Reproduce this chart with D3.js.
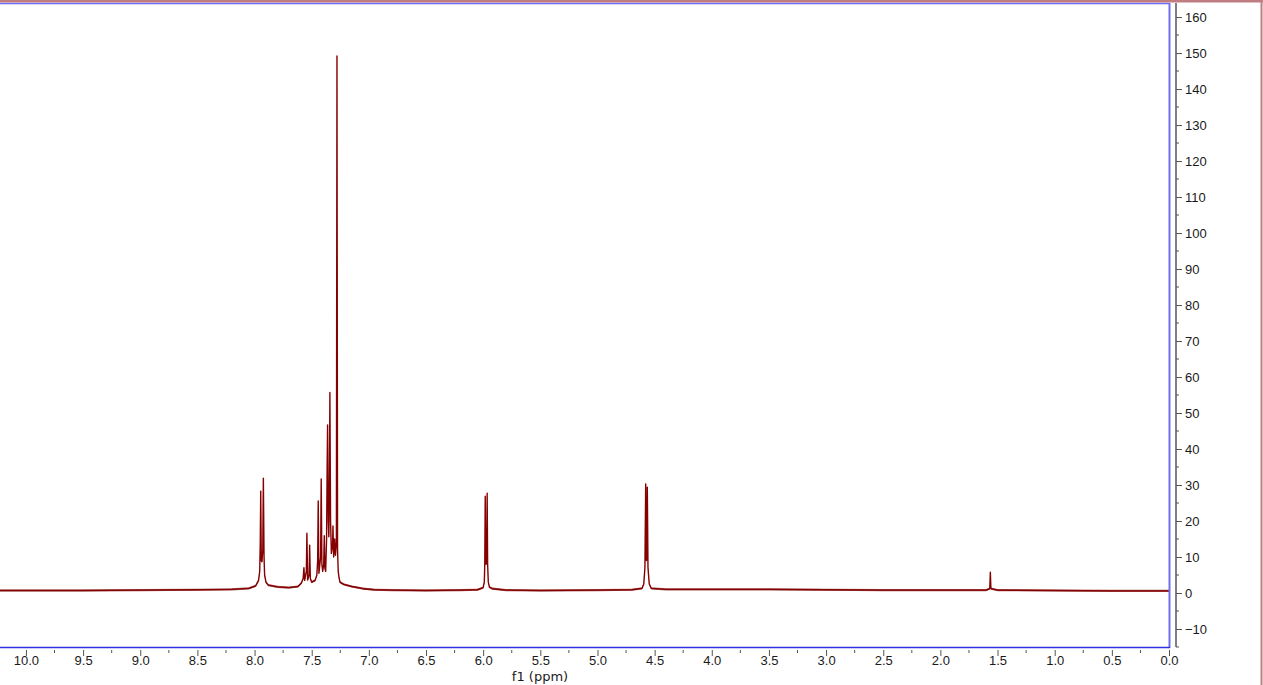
<!DOCTYPE html>
<html>
<head>
<meta charset="utf-8">
<script src="https://cdn.jsdelivr.net/npm/d3@7"></script>
<style>
  html, body { margin: 0; padding: 0; background: #fff; }
  svg { display: block; font-family: 'DejaVu Sans', Verdana, sans-serif; }
  .axis text { font-size: 13px; fill: #1a1a1a; }
  .axis line { stroke: #555; }
</style>
</head>
<body>
<div id="chart"></div>
<script>
// spectrum: chemical shift (ppm) and intensity, high ppm first
var shiftPpm = [
  10.23, 9.5, 9.0, 8.5, 8.2, 8.05, 7.99, 7.965,
  7.955, 7.950, 7.946, 7.941, 7.935, 7.928, 7.923, 7.917, 7.912, 7.90, 7.88, 7.80, 7.70, 7.62, 7.59,
  7.575, 7.568, 7.562, 7.547, 7.542, 7.536, 7.523, 7.518, 7.512, 7.50, 7.47,
  7.455, 7.448, 7.443, 7.437, 7.422, 7.417, 7.411, 7.404, 7.395, 7.390, 7.385, 7.378,
  7.370, 7.365, 7.361, 7.355, 7.350, 7.345, 7.341, 7.335, 7.328, 7.318, 7.314, 7.308,
  7.303, 7.299, 7.292, 7.284, 7.279, 7.274, 7.268, 7.262, 7.253, 7.22, 7.15, 7.05, 6.95, 6.8, 6.5,
  6.2, 6.05, 6.00, 5.99, 5.986, 5.982, 5.978, 5.974, 5.969, 5.965, 5.961, 5.955, 5.945, 5.92,
  5.8, 5.5, 5.0, 4.7, 4.61, 4.595, 4.585, 4.578, 4.572, 4.568, 4.564, 4.558, 4.547, 4.53,
  4.4, 4.0, 3.5, 3.0, 2.5, 2.0, 1.6, 1.568, 1.563, 1.558, 1.5, 1.0, 0.5, 0.0, -0.2
];
var intensity = [
  0.7, 0.7, 0.8, 0.9, 1.0, 1.3, 2.0, 3.5,
  6, 14, 28.3, 9, 8.7, 12, 31.9, 10, 5, 3, 2.2, 1.7, 1.5, 1.8, 2.8,
  4, 7.0, 3.5, 6, 16.6, 3.6, 5, 13.3, 4, 3, 3.5,
  5, 9, 25.6, 5.5, 10, 31.7, 8, 6, 8, 15.9, 7, 6,
  15, 35, 46.7, 20, 15.6, 30, 55.7, 20, 11, 13, 18.6, 10,
  12, 15, 10.5, 14, 149.2, 12, 6, 4.5, 3, 2.4, 1.8, 1.2, 0.9, 0.8, 0.7,
  0.8, 0.9, 1.5, 3, 8, 26.9, 10, 8, 12, 27.7, 8, 3, 1.6, 1.2,
  0.8, 0.7, 0.8, 0.9, 1.3, 2.5, 7, 30.3, 9, 10, 29.4, 7, 2.5, 1.3,
  1.0, 1.0, 1.0, 0.9, 0.8, 0.8, 0.8, 1.2, 5.8, 1.2, 0.8, 0.7, 0.6, 0.6, 0.6
];
// half-thickness of the baseline noise band, intensity units
var noiseHalf = 0.3;

var xMajorTicks = d3.range(0, 21).map(function (i) { return i * 0.5; });
var xMinorTicks = d3.range(0, 41).map(function (i) { return i * 0.25; });
var yMajorTicks = d3.range(-1, 17).map(function (i) { return i * 10; });
var yMinorTicks = d3.range(-3, 33).map(function (i) { return i * 5; });

var W = 1263, H = 685;
var plot = { left: 0, top: 3, right: 1169, bottom: 647 };

var svg = d3.select('#chart').append('svg')
  .attr('width', W)
  .attr('height', H);

var x = d3.scaleLinear()
  .domain([10.227, 0])
  .range([plot.left, plot.right]);

var y = d3.scaleLinear()
  .domain([-15, 163.9])
  .range([plot.bottom, plot.top]);

svg.append('clipPath').attr('id', 'plotClip')
  .append('rect')
  .attr('x', plot.left)
  .attr('y', plot.top)
  .attr('width', plot.right - plot.left)
  .attr('height', plot.bottom - plot.top);

var data = shiftPpm.map(function (p, i) { return { ppm: p, v: intensity[i] }; });

var spec = svg.append('g').attr('clip-path', 'url(#plotClip)');

spec.append('path')
  .datum(data)
  .attr('fill', '#7d0a0a')
  .attr('opacity', 0.7)
  .attr('d', d3.area()
    .x(function (d) { return x(d.ppm); })
    .y0(function (d) { return y(d.v - noiseHalf); })
    .y1(function (d) { return y(d.v + noiseHalf); }));

spec.append('path')
  .datum(data)
  .attr('fill', 'none')
  .attr('stroke', '#850000')
  .attr('stroke-width', 1.4)
  .attr('stroke-linejoin', 'round')
  .attr('d', d3.line()
    .x(function (d) { return x(d.ppm); })
    .y(function (d) { return y(d.v); }));

// plot frame
svg.append('line')
  .attr('x1', plot.left).attr('x2', plot.right)
  .attr('y1', plot.top + 0.5).attr('y2', plot.top + 0.5)
  .attr('stroke', '#6a6af2').attr('stroke-width', 1.5);
svg.append('line')
  .attr('x1', plot.right + 0.5).attr('x2', plot.right + 0.5)
  .attr('y1', plot.top).attr('y2', plot.bottom + 1)
  .attr('stroke', '#6e6ef0').attr('stroke-width', 2);
svg.append('line')
  .attr('x1', plot.left).attr('x2', plot.right + 1)
  .attr('y1', plot.bottom + 0.5).attr('y2', plot.bottom + 0.5)
  .attr('stroke', '#3030e0').attr('stroke-width', 1.5);

// bottom axis
var xAxis = d3.axisBottom(x)
  .tickValues(xMajorTicks)
  .tickFormat(d3.format('.1f'))
  .tickSize(6)
  .tickPadding(0);

var gx = svg.append('g').attr('class', 'axis')
  .attr('transform', 'translate(0,' + 650 + ')')
  .call(xAxis);
gx.select('.domain').remove();

gx.selectAll('.minor')
  .data(xMinorTicks.filter(function (t) { return Math.round(t * 4) % 2 === 1; }))
  .enter().append('line')
  .attr('class', 'minor')
  .attr('x1', function (d) { return x(d); })
  .attr('x2', function (d) { return x(d); })
  .attr('y1', 0).attr('y2', 3)
  .attr('stroke', '#555');

svg.append('text')
  .attr('x', 540)
  .attr('y', 681)
  .attr('text-anchor', 'middle')
  .style('font-size', '13px')
  .attr('fill', '#1a1a1a')
  .text('f1 (ppm)');

// right axis
var axisX = 1176;
var yAxis = d3.axisRight(y)
  .tickValues(yMajorTicks)
  .tickSize(6)
  .tickPadding(3);

var gy = svg.append('g').attr('class', 'axis')
  .attr('transform', 'translate(' + axisX + ',0)')
  .call(yAxis);
gy.select('.domain')
  .attr('stroke', '#808080')
  .attr('stroke-width', 2)
  .attr('d', 'M0,' + plot.top + 'V' + plot.bottom);

gy.selectAll('.minor')
  .data(yMinorTicks.filter(function (t) { return Math.abs(t % 10) === 5; }))
  .enter().append('line')
  .attr('class', 'minor')
  .attr('x1', 0).attr('x2', 3)
  .attr('y1', function (d) { return y(d); })
  .attr('y2', function (d) { return y(d); })
  .attr('stroke', '#555');

// outer window border
svg.append('line')
  .attr('x1', 0).attr('x2', W)
  .attr('y1', 1.2).attr('y2', 1.2)
  .attr('stroke', '#c07e83').attr('stroke-width', 2.5);
svg.append('line')
  .attr('x1', W - 1.5).attr('x2', W - 1.5)
  .attr('y1', 0).attr('y2', H)
  .attr('stroke', '#c07e83').attr('stroke-width', 2);
</script>
</body>
</html>
